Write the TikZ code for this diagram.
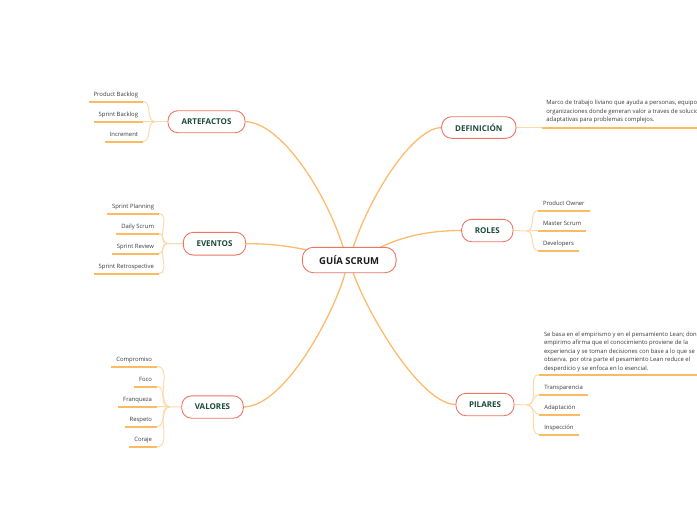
\documentclass[tikz,border=0pt]{standalone}
\usepackage{fontspec}
\setmainfont{Open Sans}
\usetikzlibrary{backgrounds}
\definecolor{borderC}{HTML}{EC7666}
\definecolor{topicText}{HTML}{1B4B3A}
\definecolor{centerText}{HTML}{1A1A1A}
\definecolor{mainC}{HTML}{FDBB6D}
\definecolor{ulineC}{HTML}{FCBA62}
\definecolor{twigC}{HTML}{FDD9AA}
\definecolor{leafText}{HTML}{3A3A3A}
\newcommand{\leaffont}{\fontsize{5.9}{7}\selectfont}
\newcommand{\longfont}{\fontsize{5.9}{8.4}\selectfont}
\newcommand{\topicfont}{\fontsize{8}{9.6}\selectfont\bfseries}
\newcommand{\centerfont}{\fontsize{9.5}{11}\selectfont\bfseries}
\tikzset{
  leaf/.style={font=\leaffont, text=leafText, inner xsep=5pt, inner ysep=3pt, text height=4.4pt, text depth=1.7pt, outer sep=0pt},
  longleaf/.style={font=\longfont, text=leafText, inner xsep=4.7pt, inner ysep=3pt, align=left, outer sep=0pt},
  uline/.style={draw=ulineC, line width=2pt},
  twig/.style={draw=twigC, line width=1pt},
  mainline/.style={draw=mainC, line width=1.3pt},
  topic/.style={draw=borderC, line width=0.9pt, rounded corners=10pt, fill=white, font=\topicfont, text=topicText, minimum height=22.4pt, inner xsep=2pt, inner ysep=0pt, outer sep=0pt}
}
\begin{document}
\begin{tikzpicture}[x=1pt, y=-1pt]
\useasboundingbox (0,0) rectangle (697,520);
% topics
\node[topic, minimum width=93.7pt, minimum height=25.4pt, font=\centerfont, text=centerText, rounded corners=11pt] (c) at (349.2,260) {GUÍA SCRUM};
\node[topic, minimum width=77pt, minimum height=22pt] (art) at (206.5,121.7) {ARTEFACTOS};
\node[topic, minimum width=62.4pt, minimum height=22.7pt] (eve) at (214.5,243.7) {EVENTOS};
\node[topic, minimum width=61.6pt] (val) at (212.5,407) {VALORES};
\node[topic, minimum width=74.3pt, minimum height=21.6pt] (def) at (478.8,127.5) {DEFINICIÓN};
\node[topic, minimum width=51.3pt] (rol) at (487.3,230.5) {ROLES};
\node[topic, minimum width=58pt] (pil) at (485,404.5) {PILARES};
% left leaves
\node[leaf, anchor=south east] (pb) at (143,101.5) {Product Backlog};
\node[leaf, anchor=south east] (sb) at (143,121.5) {Sprint Backlog};
\node[leaf, anchor=south east] (inc) at (143,141.5) {Increment};
\node[leaf, anchor=south east] (sp) at (159,213.5) {Sprint Planning};
\node[leaf, anchor=south east] (ds) at (159,233.5) {Daily Scrum};
\node[leaf, anchor=south east] (sr) at (159,253.5) {Sprint Review};
\node[leaf, anchor=south east] (sre) at (159,273.5) {Sprint Retrospective};
\node[leaf, anchor=south east] (com) at (157,366.5) {Compromiso};
\node[leaf, anchor=south east] (foc) at (157,386.5) {Foco};
\node[leaf, anchor=south east] (fra) at (157,406.5) {Franqueza};
\node[leaf, anchor=south east] (res) at (157,426.5) {Respeto};
\node[leaf, anchor=south east] (cor) at (157,446.5) {Coraje};
% right leaves
\node[longleaf, anchor=south west, inner ysep=4.5pt] (deft) at (541.7,127.5) {Marco de trabajo liviano que ayuda a personas, equipos y\\organizaciones donde generan valor a traves de soluciones\\adaptativas para problemas complejos.};
\node[leaf, anchor=south west] (po) at (538,210.5) {Product Owner};
\node[leaf, anchor=south west] (ms) at (538,230.5) {Master Scrum};
\node[leaf, anchor=south west] (dev) at (538,250.5) {Developers};
\node[longleaf, anchor=south west] (pilt) at (539.3,374.5) {Se basa en el empirismo y en el pensamiento Lean; donde el\\empirimo afirma que el conocimiento proviene de la\\experiencia y se toman decisiones con base a lo que se\\observa. por otra parte el pesamiento Lean reduce el\\desperdicio y se enfoca en lo esencial.};
\node[leaf, anchor=south west] (tra) at (539.3,394.5) {Transparencia};
\node[leaf, anchor=south west] (ada) at (539.3,414.5) {Adaptación};
\node[leaf, anchor=south west] (ins) at (539.3,434.5) {Inspección};
% junctions and free ends
\coordinate (jA) at (155,121.7);
\coordinate (jE) at (167.3,243.5);
\coordinate (jV) at (170,406.8);
\coordinate (jR) at (526.7,231);
\coordinate (jP) at (527.3,405);
\coordinate (defEnd) at (705,127.5);
\coordinate (pilEnd) at (705,374.5);
\begin{pgfonlayer}{background}
% main connectors
\draw[mainline] (art.east) .. controls +(35,0) and +(-18,-57) .. ([xshift=-6pt]c.north);
\draw[mainline] (def.west) .. controls +(-27,0) and +(19,-57) .. ([xshift=4pt]c.north);
\draw[mainline] (rol.west) .. controls +(-30,0) and +(25,-12) .. ([xshift=31pt]c.north);
\draw[mainline] (eve.east) .. controls +(25,0) and +(-20,-4) .. ([xshift=4pt,yshift=-2.5pt]c.north west);
\draw[mainline] (val.east) .. controls +(42,0) and +(-10,38) .. ([xshift=-4pt]c.south);
\draw[mainline] (pil.west) .. controls +(-36,0) and +(13,38) .. ([xshift=4pt]c.south);
% twigs
\foreach \n in {pb,sb,inc} \draw[twig] (\n.south east) to[out=0,in=180] (jA);
\draw[twig] (jA) -- (art.west);
\foreach \n in {sp,ds,sr,sre} \draw[twig] (\n.south east) to[out=0,in=180] (jE);
\draw[twig] (jE) -- (eve.west);
\foreach \n in {com,foc,fra,res,cor} \draw[twig] (\n.south east) to[out=0,in=180] (jV);
\draw[twig] (jV) -- (val.west);
\foreach \n in {po,ms,dev} \draw[twig] (jR) to[out=0,in=180] (\n.south west);
\draw[twig] (rol.east) -- (jR);
\foreach \n in {pilt,tra,ada,ins} \draw[twig] (jP) to[out=0,in=180] (\n.south west);
\draw[twig] (pil.east) -- (jP);
\draw[twig] (def.east) -- (deft.south west);
\end{pgfonlayer}
% underlines
\foreach \n in {pb,sb,inc,sp,ds,sr,sre,com,foc,fra,res,cor,po,ms,dev,tra,ada,ins} \draw[uline] (\n.south west) -- (\n.south east);
\draw[uline] (deft.south west) -- (defEnd);
\draw[uline] (pilt.south west) -- (pilEnd);
\end{tikzpicture}
\end{document}
